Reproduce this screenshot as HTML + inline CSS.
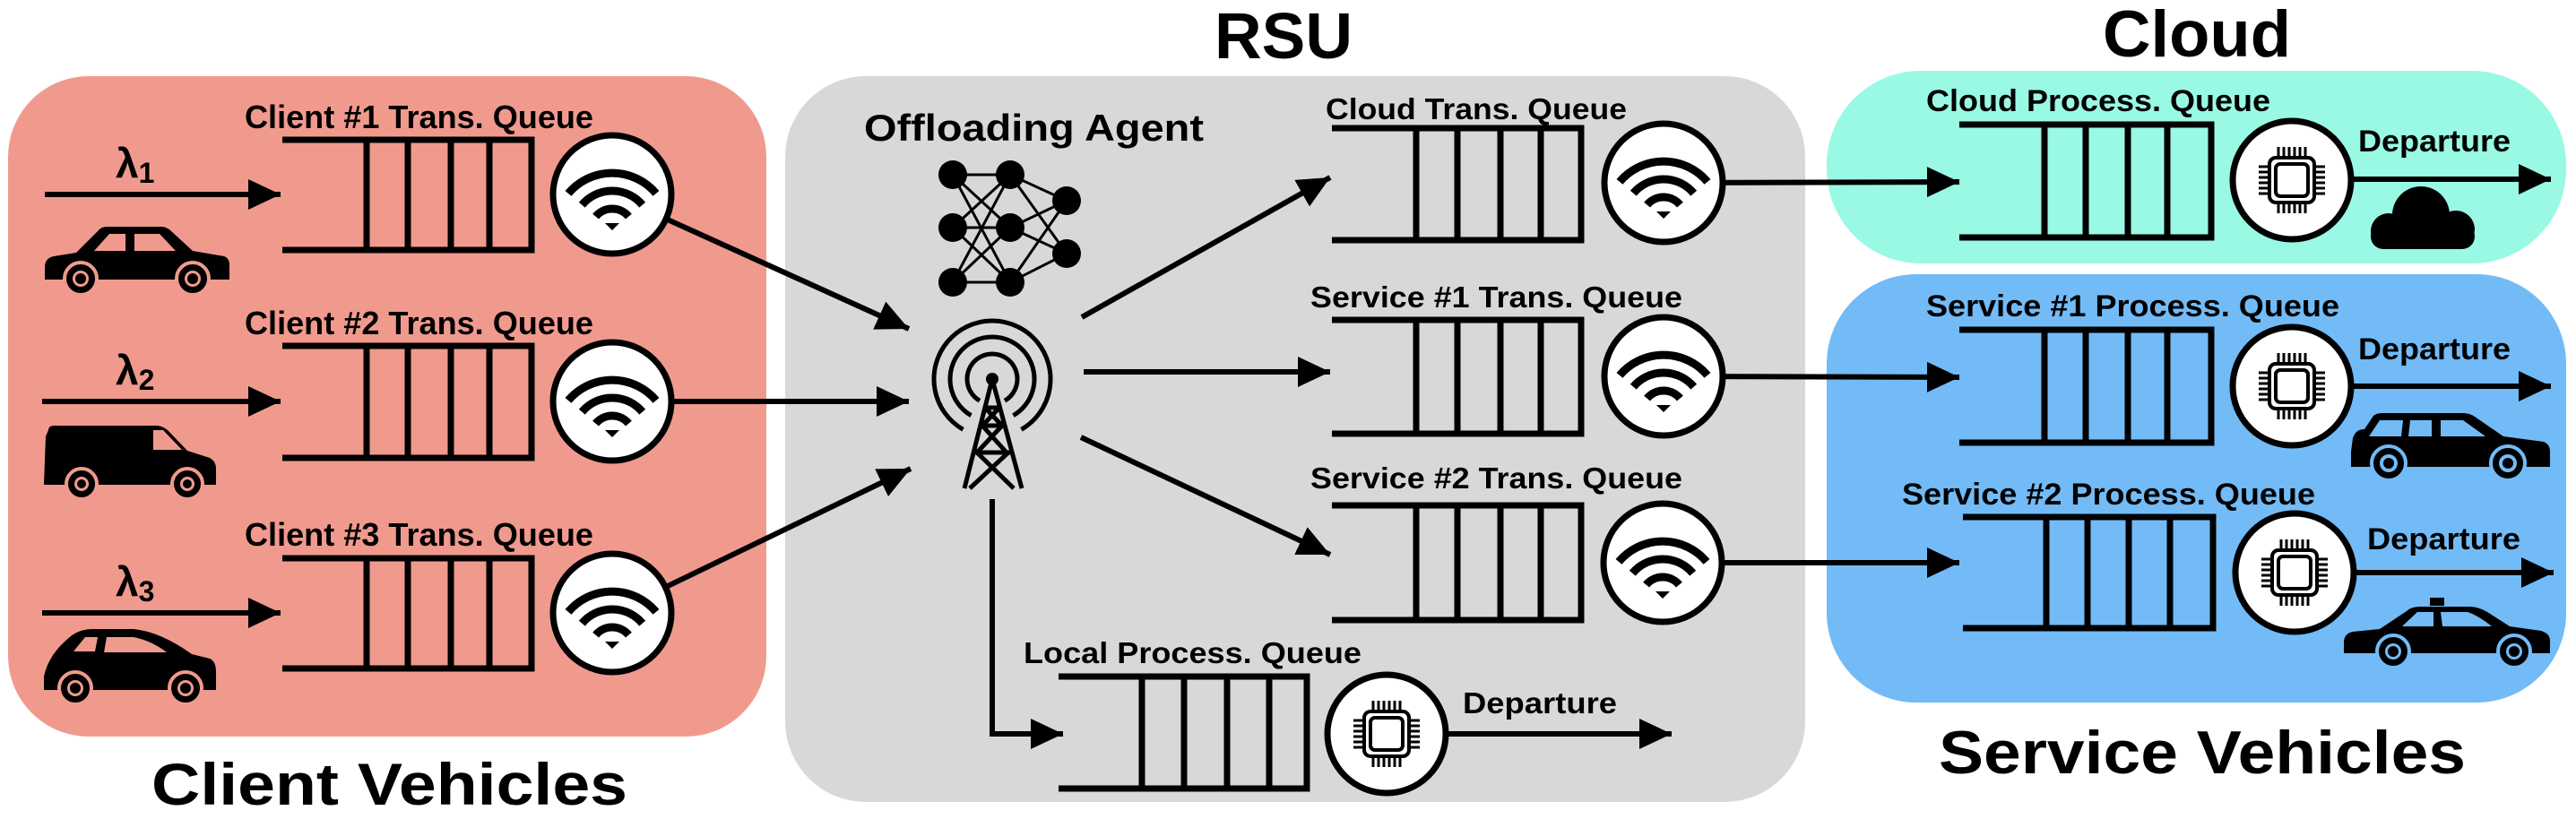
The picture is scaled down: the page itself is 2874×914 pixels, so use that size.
<!DOCTYPE html>
<html><head><meta charset="utf-8"><style>
html,body{margin:0;padding:0;background:#fff;}
svg{display:block;}
text{font-family:"Liberation Sans",Arial,sans-serif;font-weight:bold;fill:#000;}
</style></head><body>
<svg width="2874" height="914" viewBox="0 0 2874 914" xmlns="http://www.w3.org/2000/svg">
<defs>
<marker id="ah" markerUnits="userSpaceOnUse" markerWidth="40" markerHeight="40" refX="36" refY="17" orient="auto">
<path d="M0,0 L36,17 L0,34 Z" fill="#000"/>
</marker>
<g id="wifi">
<circle cx="0" cy="0" r="66" fill="#fff" stroke="#000" stroke-width="7"/>
<g fill="none" stroke="#000" stroke-width="9">
<path d="M-49,-1.1 A64,64 0 0 1 49,-1.1"/>
<path d="M-33.7,11.7 A44,44 0 0 1 33.7,11.7"/>
<path d="M-18.4,24.6 A24,24 0 0 1 18.4,24.6"/>
</g>
<path d="M-8,32 L8,32 L0,40 Z" fill="#000"/>
</g>
<g id="cpu">
<circle cx="0" cy="0" r="66" fill="#fff" stroke="#000" stroke-width="7"/>
<rect x="-25" y="-25" width="50" height="50" rx="7" fill="#fff" stroke="#000" stroke-width="4"/>
<rect x="-18" y="-18" width="36" height="36" rx="5" fill="#fff" stroke="#000" stroke-width="4"/>
<g stroke="#000" stroke-width="3">
<path d="M-15,-27 V-37 M-9,-27 V-37 M-3,-27 V-37 M3,-27 V-37 M9,-27 V-37 M15,-27 V-37"/>
<path d="M-15,27 V37 M-9,27 V37 M-3,27 V37 M3,27 V37 M9,27 V37 M15,27 V37"/>
<path d="M-27,-15 H-37 M-27,-9 H-37 M-27,-3 H-37 M-27,3 H-37 M-27,9 H-37 M-27,15 H-37"/>
<path d="M27,-15 H37 M27,-9 H37 M27,-3 H37 M27,3 H37 M27,9 H37 M27,15 H37"/>
</g>
</g>
</defs>

<!-- region boxes -->
<rect x="9" y="85" width="846" height="737" rx="90" fill="#F09A8E"/>
<rect x="876" y="85" width="1138" height="810" rx="90" fill="#D8D8D8"/>
<rect x="2038" y="79" width="825" height="215" rx="105" fill="#99F9E5"/>
<rect x="2038" y="306" width="825" height="478" rx="100" fill="#72BBF7"/>

<!-- titles -->
<text x="1355" y="65" font-size="72" textLength="154" lengthAdjust="spacingAndGlyphs">RSU</text>
<text x="2346" y="63" font-size="73" textLength="210" lengthAdjust="spacingAndGlyphs">Cloud</text>
<text x="169" y="898" font-size="66" textLength="531" lengthAdjust="spacingAndGlyphs">Client Vehicles</text>
<text x="2163" y="863" font-size="68" textLength="588" lengthAdjust="spacingAndGlyphs">Service Vehicles</text>

<!-- client labels -->
<text x="273" y="143" font-size="36" textLength="389" lengthAdjust="spacingAndGlyphs">Client #1 Trans. Queue</text>
<text x="273" y="373" font-size="36" textLength="389" lengthAdjust="spacingAndGlyphs">Client #2 Trans. Queue</text>
<text x="273" y="609" font-size="36" textLength="389" lengthAdjust="spacingAndGlyphs">Client #3 Trans. Queue</text>

<text x="129" y="198" font-size="46">λ<tspan font-size="32" dy="6">1</tspan></text>
<text x="129" y="429" font-size="46">λ<tspan font-size="32" dy="6">2</tspan></text>
<text x="129" y="665" font-size="46">λ<tspan font-size="32" dy="6">3</tspan></text>

<g stroke="#000" stroke-width="6" fill="none">
<path d="M50,217 H313" marker-end="url(#ah)"/>
<path d="M47,448 H313" marker-end="url(#ah)"/>
<path d="M47,684 H313" marker-end="url(#ah)"/>
</g>

<!-- queues -->
<g stroke="#000" stroke-width="7" fill="none">
<!-- client -->
<path d="M315,156 H593 V279 H315 M409,156 V279 M455,156 V279 M503,156 V279 M546,156 V279"/>
<path d="M315,386 H593 V511 H315 M409,386 V511 M455,386 V511 M503,386 V511 M546,386 V511"/>
<path d="M315,623 H593 V746 H315 M409,623 V746 M455,623 V746 M503,623 V746 M546,623 V746"/>
<!-- RSU -->
<path d="M1486,143 H1764 V268 H1486 M1580,143 V268 M1626,143 V268 M1674,143 V268 M1719,143 V268"/>
<path d="M1486,357 H1764 V484 H1486 M1580,357 V484 M1626,357 V484 M1674,357 V484 M1719,357 V484"/>
<path d="M1486,564 H1764 V692 H1486 M1580,564 V692 M1626,564 V692 M1674,564 V692 M1719,564 V692"/>
<path d="M1181,755 H1458 V880 H1181 M1274,755 V880 M1321,755 V880 M1369,755 V880 M1416,755 V880"/>
<!-- right -->
<path d="M2186,139 H2467 V265 H2186 M2281,139 V265 M2327,139 V265 M2374,139 V265 M2418,139 V265"/>
<path d="M2186,368 H2467 V494 H2186 M2281,368 V494 M2327,368 V494 M2374,368 V494 M2418,368 V494"/>
<path d="M2190,577 H2469 V701 H2190 M2283,577 V701 M2329,577 V701 M2375,577 V701 M2421,577 V701"/>
</g>

<!-- connectors -->
<g stroke="#000" stroke-width="6" fill="none">
<path d="M683,217 L1014,367" marker-end="url(#ah)"/>
<path d="M683,448 L1014,448" marker-end="url(#ah)"/>
<path d="M683,684 L1016,523" marker-end="url(#ah)"/>
<path d="M1207,354 L1484,198" marker-end="url(#ah)"/>
<path d="M1209,415 L1484,415" marker-end="url(#ah)"/>
<path d="M1206,488 L1484,619" marker-end="url(#ah)"/>
<path d="M1107,557 V819 H1186" marker-end="url(#ah)"/>
<path d="M1856,204 L2186,203" marker-end="url(#ah)"/>
<path d="M1856,420 L2186,421" marker-end="url(#ah)"/>
<path d="M1855,628 L2186,628" marker-end="url(#ah)"/>
<path d="M1547,819 L1865,819" marker-end="url(#ah)"/>
<path d="M2557,200 L2846,200" marker-end="url(#ah)"/>
<path d="M2557,431 L2846,431" marker-end="url(#ah)"/>
<path d="M2560,639 L2849,639" marker-end="url(#ah)"/>
</g>

<use href="#wifi" x="683" y="217"/>
<use href="#wifi" x="683" y="448"/>
<use href="#wifi" x="683" y="684"/>
<use href="#wifi" x="1856" y="204"/>
<use href="#wifi" x="1856" y="420"/>
<use href="#wifi" x="1855" y="628"/>
<use href="#cpu" x="1547" y="819"/>
<use href="#cpu" x="2557" y="201"/>
<use href="#cpu" x="2557" y="431"/>
<use href="#cpu" x="2560" y="639"/>

<!-- RSU labels -->
<text x="964" y="157" font-size="42" textLength="379" lengthAdjust="spacingAndGlyphs">Offloading Agent</text>
<text x="1479" y="133" font-size="33" textLength="336" lengthAdjust="spacingAndGlyphs">Cloud Trans. Queue</text>
<text x="1462" y="343" font-size="33" textLength="415" lengthAdjust="spacingAndGlyphs">Service #1 Trans. Queue</text>
<text x="1462" y="545" font-size="33" textLength="415" lengthAdjust="spacingAndGlyphs">Service #2 Trans. Queue</text>
<text x="1142" y="740" font-size="33" textLength="377" lengthAdjust="spacingAndGlyphs">Local Process. Queue</text>
<text x="1632" y="796" font-size="33" textLength="172" lengthAdjust="spacingAndGlyphs">Departure</text>

<text x="2149" y="124" font-size="34" textLength="384" lengthAdjust="spacingAndGlyphs">Cloud Process. Queue</text>
<text x="2149" y="353" font-size="34" textLength="461" lengthAdjust="spacingAndGlyphs">Service #1 Process. Queue</text>
<text x="2122" y="563" font-size="34" textLength="461" lengthAdjust="spacingAndGlyphs">Service #2 Process. Queue</text>
<text x="2631" y="169" font-size="34" textLength="170" lengthAdjust="spacingAndGlyphs">Departure</text>
<text x="2631" y="401" font-size="34" textLength="170" lengthAdjust="spacingAndGlyphs">Departure</text>
<text x="2641" y="613" font-size="34" textLength="171" lengthAdjust="spacingAndGlyphs">Departure</text>

<!-- neural net -->
<g stroke="#000" stroke-width="3">
<path d="M1063,195 L1127,195 M1063,195 L1127,254 M1063,195 L1127,315 M1063,254 L1127,195 M1063,254 L1127,254 M1063,254 L1127,315 M1063,315 L1127,195 M1063,315 L1127,254 M1063,315 L1127,315"/>
<path d="M1127,195 L1190,224 M1127,195 L1190,283 M1127,254 L1190,224 M1127,254 L1190,283 M1127,315 L1190,224 M1127,315 L1190,283"/>
</g>
<g fill="#000">
<circle cx="1063" cy="195" r="16"/><circle cx="1063" cy="254" r="16"/><circle cx="1063" cy="315" r="16"/>
<circle cx="1127" cy="195" r="16"/><circle cx="1127" cy="254" r="16"/><circle cx="1127" cy="315" r="16"/>
<circle cx="1190" cy="224" r="16"/><circle cx="1190" cy="283" r="16"/>
</g>

<!-- antenna -->
<g fill="none" stroke="#000" stroke-width="5">
<path d="M1074.5,479.3 A65,65 0 1 1 1139.5,479.3"/>
<path d="M1083.5,463.7 A47,47 0 1 1 1130.5,463.7"/>
<path d="M1093,447.2 A28,28 0 1 1 1121,447.2"/>
<path d="M1107,423 L1076,545 M1107,423 L1140,545 M1099,455 L1118,475 M1115,455 L1096,475 M1096,475 L1123,505 M1118,475 L1090,505 M1090,505 L1131,545 M1125,505 L1082,545 M1099,455 H1115 M1093,475 H1121 M1088,505 H1127"/>
</g>
<circle cx="1107" cy="423" r="7" fill="#000"/>

<!-- cars -->
<g transform="translate(50,248)">
<path d="M0,50 Q0,40 10,38 L35,34 L60,9 Q63,5 70,5 L130,5 Q135,5 140,9 L165,32 L200,38 Q206,40 206,48 L206,64 L0,64 Z" fill="#000"/>
<path d="M55,32 L72,13 L90,13 L90,32 Z M100,13 L128,13 L146,32 L100,32 Z" fill="#F09A8E"/>
<g><circle cx="40" cy="63" r="18" fill="#000" stroke="#F09A8E" stroke-width="4"/><circle cx="40" cy="63" r="9" fill="#F09A8E"/><circle cx="40" cy="63" r="6" fill="#000"/></g>
<g><circle cx="165" cy="63" r="18" fill="#000" stroke="#F09A8E" stroke-width="4"/><circle cx="165" cy="63" r="9" fill="#F09A8E"/><circle cx="165" cy="63" r="6" fill="#000"/></g>
</g>
<g transform="translate(49,475)">
<path d="M5,5 Q5,0 12,0 L125,0 Q132,0 138,5 L160,28 L185,36 Q192,40 192,48 L192,66 L0,66 L2,12 Z" fill="#000"/>
<path d="M122,5 L133,5 L154,27 L122,27 Z" fill="#F09A8E"/>
<g><circle cx="42" cy="65" r="17" fill="#000" stroke="#F09A8E" stroke-width="4"/><circle cx="42" cy="65" r="8" fill="#F09A8E"/><circle cx="42" cy="65" r="5" fill="#000"/></g>
<g><circle cx="160" cy="65" r="17" fill="#000" stroke="#F09A8E" stroke-width="4"/><circle cx="160" cy="65" r="8" fill="#F09A8E"/><circle cx="160" cy="65" r="5" fill="#000"/></g>
</g>
<g transform="translate(49,700)">
<path d="M0,70 L0,55 Q5,30 30,10 Q40,2 55,2 L100,2 Q130,5 165,30 L185,35 Q192,38 192,50 L192,70 Z" fill="#000"/>
<path d="M33,27 L46,11 L60,11 L57,27 Z M70,11 L100,11 Q120,15 137,28 L67,28 Z" fill="#F09A8E"/>
<g><circle cx="35" cy="68" r="18" fill="#000" stroke="#F09A8E" stroke-width="4"/><circle cx="35" cy="68" r="9" fill="#F09A8E"/><circle cx="35" cy="68" r="6" fill="#000"/></g>
<g><circle cx="158" cy="68" r="18" fill="#000" stroke="#F09A8E" stroke-width="4"/><circle cx="158" cy="68" r="9" fill="#F09A8E"/><circle cx="158" cy="68" r="6" fill="#000"/></g>
</g>
<g transform="translate(2623,459)">
<path d="M0,45 L2,30 Q5,20 15,20 L25,5 Q28,2 35,2 L125,2 Q132,2 138,6 L170,28 L215,34 Q222,37 222,45 L222,62 L0,62 Z" fill="#000"/>
<path d="M20,28 L32,10 L58,10 L56,28 Z M66,10 L90,10 L90,28 L64,28 Z M100,10 L125,10 L150,28 L100,28 Z" fill="#72BBF7"/>
<g><circle cx="42" cy="58" r="19" fill="#000" stroke="#72BBF7" stroke-width="4"/><circle cx="42" cy="58" r="10" fill="#72BBF7"/><circle cx="42" cy="58" r="6" fill="#000"/></g>
<g><circle cx="175" cy="58" r="19" fill="#000" stroke="#72BBF7" stroke-width="4"/><circle cx="175" cy="58" r="10" fill="#72BBF7"/><circle cx="175" cy="58" r="6" fill="#000"/></g>
</g>
<g transform="translate(2615,667)">
<rect x="96" y="0" width="16" height="9" fill="#000"/>
<path d="M0,50 Q0,40 10,38 L40,35 L70,15 Q75,10 85,10 L140,10 Q150,10 160,16 L185,32 L220,37 Q230,40 230,48 L230,62 L0,62 Z" fill="#000"/>
<path d="M65,32 L82,16 L100,16 L100,32 Z M108,16 L138,16 Q150,20 165,32 L110,32 Z" fill="#72BBF7"/>
<g><circle cx="55" cy="60" r="18" fill="#000" stroke="#72BBF7" stroke-width="4"/><circle cx="55" cy="60" r="9" fill="#72BBF7"/><circle cx="55" cy="60" r="6" fill="#000"/></g>
<g><circle cx="190" cy="60" r="18" fill="#000" stroke="#72BBF7" stroke-width="4"/><circle cx="190" cy="60" r="9" fill="#72BBF7"/><circle cx="190" cy="60" r="6" fill="#000"/></g>
</g>

<!-- cloud icon -->
<g fill="#000">
<circle cx="2701" cy="240" r="32"/>
<circle cx="2740" cy="256" r="21"/>
<circle cx="2665" cy="258" r="20"/>
<rect x="2645" y="250" width="116" height="28" rx="14"/>
</g>
</svg>
</body></html>
